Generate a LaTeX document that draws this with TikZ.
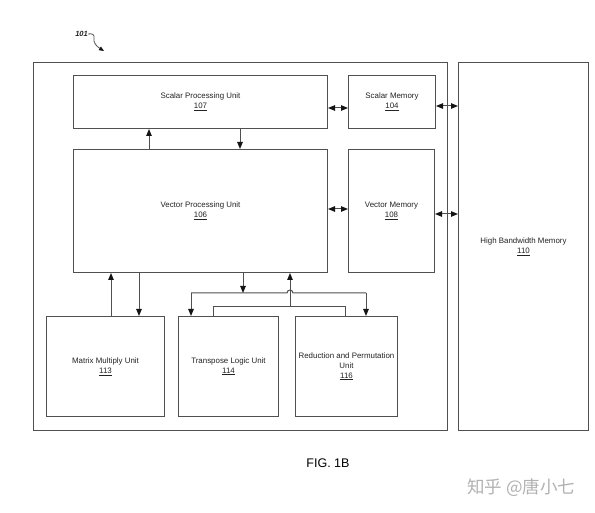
\documentclass[tikz,border=0pt]{standalone}
\usepackage{fontspec}
\setmainfont{Liberation Sans}
\newfontfamily\cjk{Noto Sans CJK SC}
\usetikzlibrary{arrows.meta,calc}
\definecolor{linec}{RGB}{80,80,80}
\definecolor{textc}{RGB}{35,35,35}
\definecolor{headc}{RGB}{20,20,20}
\begin{document}
\begin{tikzpicture}[x=1pt,y=-1pt,
  box/.style={draw=linec, line width=1pt, inner sep=0pt, align=center, text=textc,
    font=\fontsize{7.9}{9.8}\selectfont, anchor=north west},
  arr/.style={draw=linec, line width=1pt, -{Triangle[length=7pt,width=5.5pt,color=headc]}},
  darr/.style={draw=linec, line width=1pt, {Triangle[length=7pt,width=5.5pt,color=headc]}-{Triangle[length=7pt,width=5.5pt,color=headc]}},
  bus/.style={draw=linec, line width=1pt}]
\useasboundingbox (0,0) rectangle (595,513);
\fill[white] (0,0) rectangle (595,513);

% label 101
\node[font=\bfseries\itshape\fontsize{7.5}{9}\selectfont, text=textc, anchor=east, inner sep=0pt] (lbl) at (88,34) {101};
\coordinate (sq) at (104,51);
\draw[draw=linec, line width=0.8pt, -{Triangle[length=5pt,width=4pt,color=headc]}] (lbl.east) .. controls (92,33) and (95,35) .. (94,38) .. controls (93,42) and (96,46) .. (sq);

% boxes
\node[box, minimum width=414pt, minimum height=368pt] (outer) at (33,62) {};
\node[box, minimum width=130pt, minimum height=368pt] (hbm) at (458,62) {High Bandwidth Memory\\\underline{110}};
\node[box, minimum width=254pt, minimum height=53pt] (spu) at (73,75) {Scalar Processing Unit\\\underline{107}};
\node[box, minimum width=87pt, minimum height=53pt] (smem) at (348,75) {Scalar Memory\\\underline{104}};
\node[box, minimum width=254pt, minimum height=123pt] (vpu) at (73,149) {Vector Processing Unit\\\underline{106}};
\node[box, minimum width=86pt, minimum height=123pt] (vmem) at (348,149) {Vector Memory\\\underline{108}};
\node[box, minimum width=118pt, minimum height=100pt] (mmu) at (46,316) {Matrix Multiply Unit\\\underline{113}};
\node[box, minimum width=100pt, minimum height=100pt] (tlu) at (178,316) {Transpose Logic Unit\\\underline{114}};
\node[box, minimum width=102pt, minimum height=100pt] (rpu) at (295,316) {Reduction and Permutation\\Unit\\\underline{116}};

% x / y guide coordinates
\coordinate (x111) at (111,0);
\coordinate (x139) at (139,0);
\coordinate (x149) at (149,0);
\coordinate (x240) at (240,0);
\coordinate (x243) at (243,0);
\coordinate (x290) at (290,0);
\coordinate (y108) at (0,108);
\coordinate (y106) at (0,106);
\coordinate (y209) at (0,209);
\coordinate (y214) at (0,214);
\coordinate (busL) at (191,293);
\coordinate (busR) at (366,293);
\coordinate (busM) at (243,293);
\coordinate (lowL) at (213,307);
\coordinate (lowR) at (345,307);
\coordinate (lowM) at (290,307);

% scalar <-> vector
\draw[arr] (vpu.north -| x149) -- (spu.south -| x149);
\draw[arr] (spu.south -| x240) -- (vpu.north -| x240);

% memories
\draw[darr] (spu.east |- y108) -- (smem.west |- y108);
\draw[darr] (smem.east |- y106) -- (hbm.west |- y106);
\draw[darr] (vpu.east |- y209) -- (vmem.west |- y209);
\draw[darr] (vmem.east |- y214) -- (hbm.west |- y214);

% matrix multiply unit
\draw[arr] (mmu.north -| x111) -- (vpu.south -| x111);
\draw[arr] (vpu.south -| x139) -- (mmu.north -| x139);

% bus from VPU down to transpose / reduction
\draw[arr] (vpu.south -| x243) -- (busM);
\draw[bus] (busL) -- (287,293) arc[start angle=180, end angle=0, radius=3pt] -- (busR);
\draw[arr] (busL) -- (tlu.north -| busL);
\draw[arr] (busR) -- (rpu.north -| busR);

% return path from transpose / reduction up to VPU
\draw[bus] (tlu.north -| lowL) -- (lowL) -- (lowR) -- (rpu.north -| lowR);
\draw[arr] (lowM) -- (vpu.south -| x290);

% caption
\node[font=\fontsize{12.5}{14}\selectfont, text=black, inner sep=0pt] (fig) at (328,463) {FIG. 1B};

% watermark
\node[font=\cjk\fontsize{17.5}{20}\selectfont, text=black!30, inner sep=0pt, anchor=west] (wm) at (467,488) {知乎 @唐小七};
\end{tikzpicture}
\end{document}
